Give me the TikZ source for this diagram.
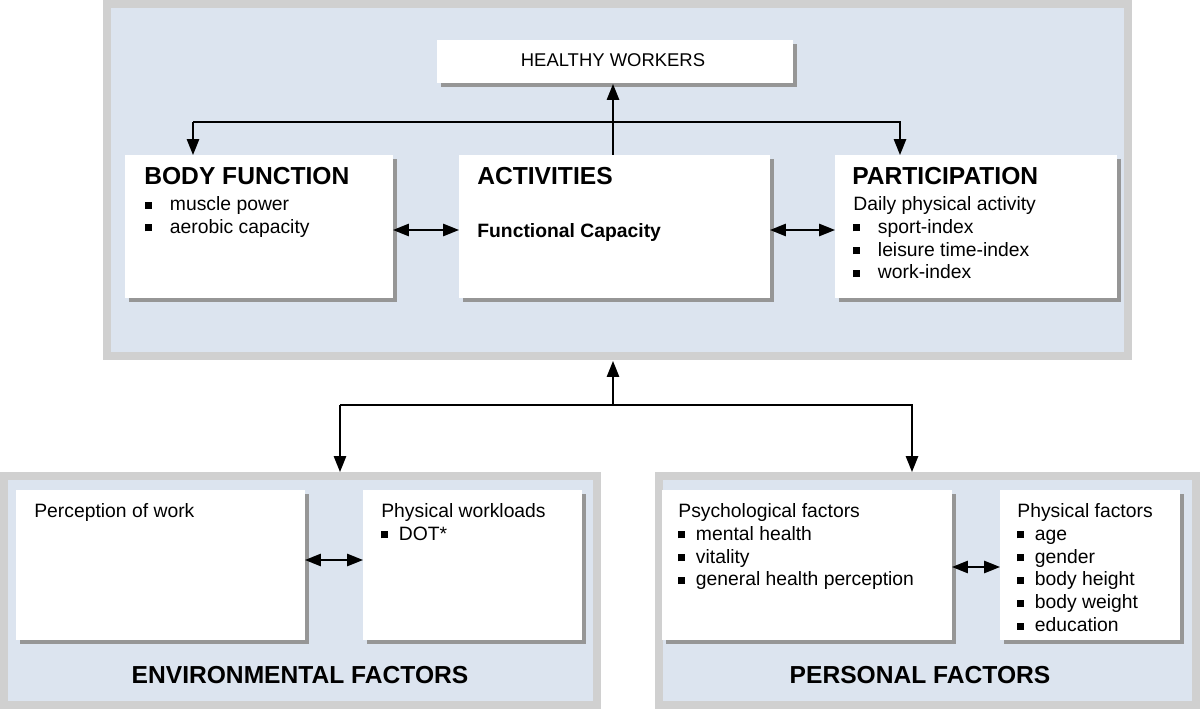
\documentclass[tikz,border=0pt]{standalone}
\usepackage{fontspec}
\setmainfont{Liberation Sans}
\usetikzlibrary{arrows.meta}
\begin{document}
\begin{tikzpicture}[x=0.02cm,y=-0.02cm,
  panel/.style={fill={rgb,255:red,220;green,228;blue,239},draw={rgb,255:red,208;green,208;blue,208},line width=5pt},
  wbox/.style={fill=white},
  shad/.style={fill={rgb,255:red,150;green,150;blue,150}},
  arr/.style={-{Triangle[length=9pt,width=7pt]},line width=0.9pt},
  darr/.style={{Triangle[length=9pt,width=7pt]}-{Triangle[length=9pt,width=7pt]},line width=0.9pt},
  txt/.style={font=\fontsize{11}{13}\selectfont,align=left,anchor=north west,inner sep=0pt},
  head/.style={font=\fontsize{14}{16}\selectfont\bfseries,anchor=north west,inner sep=0pt}]
\useasboundingbox (0,0) rectangle (1200,709);
% panels
\draw[panel] (107,4) rectangle (1128,356);
\draw[panel] (4,476) rectangle (597,705);
\draw[panel] (659,476) rectangle (1196,705);
% boxes with shadows
\newcommand\shbox[5]{\fill[shad] (#1+4,#2+4) rectangle (#3+4,#4+4);\fill[wbox] (#1,#2) rectangle (#3,#4);\coordinate (#5) at (#1,#2);}
\shbox{437}{40}{793}{83}{hw}
\shbox{125}{155}{393}{298}{bf}
\shbox{459}{155}{770}{298}{ac}
\shbox{835}{155}{1117}{298}{pa}
\shbox{16}{490}{305}{640}{pw}
\shbox{363}{490}{582}{640}{pl}
\shbox{662}{490}{952}{640}{ps}
\shbox{1000}{490}{1180}{640}{ph}
\node[font=\fontsize{10.5}{13}\selectfont] (hwt) at (613,60) {HEALTHY WORKERS};
% texts
\node[head] (bft) at (144,167) {BODY FUNCTION};
\node[txt] (bfl) at (145,196) {\rule[1pt]{4pt}{4pt}\hspace{10pt}muscle power\\\rule[1pt]{4pt}{4pt}\hspace{10pt}aerobic capacity};
\node[head] (act) at (477,167) {ACTIVITIES};
\node[txt,font=\fontsize{11}{13}\selectfont\bfseries] (acl) at (477,223) {Functional Capacity};
\node[head] (pat) at (852,167) {PARTICIPATION};
\node[txt] (pal) at (853,196) {Daily physical activity\\\rule[1pt]{4pt}{4pt}\hspace{10pt}sport-index\\\rule[1pt]{4pt}{4pt}\hspace{10pt}leisure time-index\\\rule[1pt]{4pt}{4pt}\hspace{10pt}work-index};
\node[txt] (pwl) at (34,503) {Perception of work};
\node[txt] (pll) at (381,503) {Physical workloads\\\rule[1pt]{4pt}{4pt}\hspace{6pt}DOT*};
\node[txt] (psl) at (678,503) {Psychological factors\\\rule[1pt]{4pt}{4pt}\hspace{6pt}mental health\\\rule[1pt]{4pt}{4pt}\hspace{6pt}vitality\\\rule[1pt]{4pt}{4pt}\hspace{6pt}general health perception};
\node[txt] (phl) at (1017,503) {Physical factors\\\rule[1pt]{4pt}{4pt}\hspace{6pt}age\\\rule[1pt]{4pt}{4pt}\hspace{6pt}gender\\\rule[1pt]{4pt}{4pt}\hspace{6pt}body height\\\rule[1pt]{4pt}{4pt}\hspace{6pt}body weight\\\rule[1pt]{4pt}{4pt}\hspace{6pt}education};
\node[font=\fontsize{14}{16}\selectfont\bfseries] (env) at (300,675) {ENVIRONMENTAL FACTORS};
\node[font=\fontsize{14}{16}\selectfont\bfseries] (per) at (920,675) {PERSONAL FACTORS};
% connectors
\coordinate (actop) at (613,155);
\coordinate (hwb) at (613,84);
\draw[arr] (actop) -- (hwb);
\coordinate (l) at (193,122); \coordinate (r) at (900,122);
\draw[arr] (l) -- (r) -- (900,155);
\draw[arr] (l) -- (193,155);
\draw[darr] (393,230) -- (459,230);
\draw[darr] (770,230) -- (835,230);
\coordinate (jb) at (613,405);
\draw[arr] (jb) -- (613,361);
\draw[arr] (340,405) -- (912,405) -- (912,472);
\draw[arr] (340,405) -- (340,472);
\draw[darr] (305,560) -- (363,560);
\draw[darr] (952,567) -- (1000,567);
\end{tikzpicture}
\end{document}
